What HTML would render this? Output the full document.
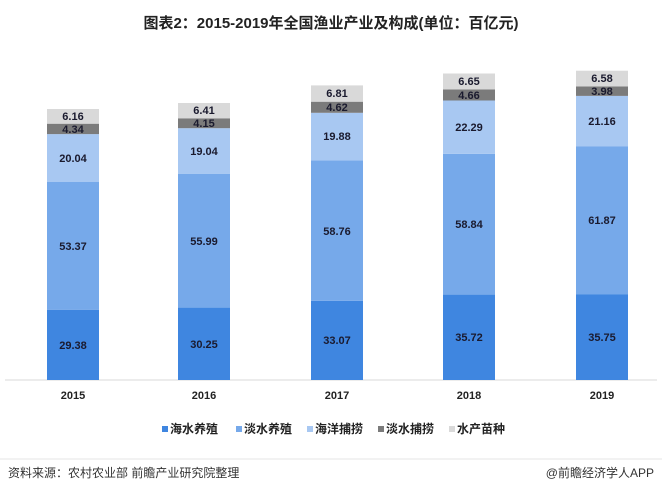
<!DOCTYPE html>
<html><head><meta charset="utf-8"><style>
body{margin:0;background:#fff;}
svg text{font-family:"Liberation Sans","Noto Sans CJK SC",sans-serif;}
</style></head><body>
<svg width="662" height="495" xmlns="http://www.w3.org/2000/svg">
<rect width="662" height="495" fill="#fff"/>
<text x="331" y="28" text-anchor="middle" font-size="15" font-weight="bold" fill="#222">图表2：2015-2019年全国渔业产业及构成(单位：百亿元)</text>
<line x1="5" y1="380" x2="657" y2="380" stroke="#d9d9d9" stroke-width="1"/>
<g font-size="11" font-weight="bold" text-anchor="middle" fill="#1a1a2e">
<!-- 2015 -->
<rect x="47" y="309.7" width="52" height="70.3" fill="#3f86e0"/>
<rect x="47" y="182.0" width="52" height="127.7" fill="#76a9ea"/>
<rect x="47" y="134.1" width="52" height="47.9" fill="#a8c8f2"/>
<rect x="47" y="123.7" width="52" height="10.4" fill="#7b7b7b"/>
<rect x="47" y="109.0" width="52" height="14.7" fill="#d9d9d9"/>
<text x="73" y="349">29.38</text><text x="73" y="250">53.37</text><text x="73" y="162">20.04</text><text x="73" y="133">4.34</text><text x="73" y="120">6.16</text>
<!-- 2016 -->
<rect x="178" y="307.6" width="52" height="72.4" fill="#3f86e0"/>
<rect x="178" y="173.7" width="52" height="133.9" fill="#76a9ea"/>
<rect x="178" y="128.2" width="52" height="45.5" fill="#a8c8f2"/>
<rect x="178" y="118.3" width="52" height="9.9" fill="#7b7b7b"/>
<rect x="178" y="103.0" width="52" height="15.3" fill="#d9d9d9"/>
<text x="204" y="348">30.25</text><text x="204" y="245">55.99</text><text x="204" y="155">19.04</text><text x="204" y="127">4.15</text><text x="204" y="114">6.41</text>
<!-- 2017 -->
<rect x="311" y="300.9" width="52" height="79.1" fill="#3f86e0"/>
<rect x="311" y="160.3" width="52" height="140.6" fill="#76a9ea"/>
<rect x="311" y="112.8" width="52" height="47.5" fill="#a8c8f2"/>
<rect x="311" y="101.7" width="52" height="11.1" fill="#7b7b7b"/>
<rect x="311" y="85.4" width="52" height="16.3" fill="#d9d9d9"/>
<text x="337" y="344">33.07</text><text x="337" y="235">58.76</text><text x="337" y="140">19.88</text><text x="337" y="111">4.62</text><text x="337" y="97">6.81</text>
<!-- 2018 -->
<rect x="443" y="294.6" width="52" height="85.4" fill="#3f86e0"/>
<rect x="443" y="153.8" width="52" height="140.8" fill="#76a9ea"/>
<rect x="443" y="100.5" width="52" height="53.3" fill="#a8c8f2"/>
<rect x="443" y="89.4" width="52" height="11.1" fill="#7b7b7b"/>
<rect x="443" y="73.5" width="52" height="15.9" fill="#d9d9d9"/>
<text x="469" y="341">35.72</text><text x="469" y="228">58.84</text><text x="469" y="131">22.29</text><text x="469" y="99">4.66</text><text x="469" y="85">6.65</text>
<!-- 2019 -->
<rect x="576" y="294.5" width="52" height="85.5" fill="#3f86e0"/>
<rect x="576" y="146.5" width="52" height="148.0" fill="#76a9ea"/>
<rect x="576" y="95.9" width="52" height="50.6" fill="#a8c8f2"/>
<rect x="576" y="86.4" width="52" height="9.5" fill="#7b7b7b"/>
<rect x="576" y="70.7" width="52" height="15.7" fill="#d9d9d9"/>
<text x="602" y="341">35.75</text><text x="602" y="224">61.87</text><text x="602" y="125">21.16</text><text x="602" y="95">3.98</text><text x="602" y="82">6.58</text>
</g>
<g font-size="11" font-weight="bold" text-anchor="middle" fill="#222">
<text x="73" y="399">2015</text><text x="204" y="399">2016</text><text x="337" y="399">2017</text><text x="469" y="399">2018</text><text x="602" y="399">2019</text>
</g>
<g font-size="12" font-weight="bold" fill="#222">
<rect x="162" y="426" width="6" height="6" fill="#3f86e0"/><text x="170" y="433">海水养殖</text>
<rect x="236" y="426" width="6" height="6" fill="#76a9ea"/><text x="244" y="433">淡水养殖</text>
<rect x="307" y="426" width="6" height="6" fill="#a8c8f2"/><text x="315" y="433">海洋捕捞</text>
<rect x="378" y="426" width="6" height="6" fill="#7b7b7b"/><text x="386" y="433">淡水捕捞</text>
<rect x="449" y="426" width="6" height="6" fill="#d9d9d9"/><text x="457" y="433">水产苗种</text>
</g>
<line x1="0" y1="459" x2="662" y2="459" stroke="#e5e5e5"/>
<text x="8" y="477" font-size="12" fill="#333">资料来源：农村农业部 前瞻产业研究院整理</text>
<text x="654" y="477" font-size="12" fill="#333" text-anchor="end">@前瞻经济学人APP</text>
</svg>
</body></html>
